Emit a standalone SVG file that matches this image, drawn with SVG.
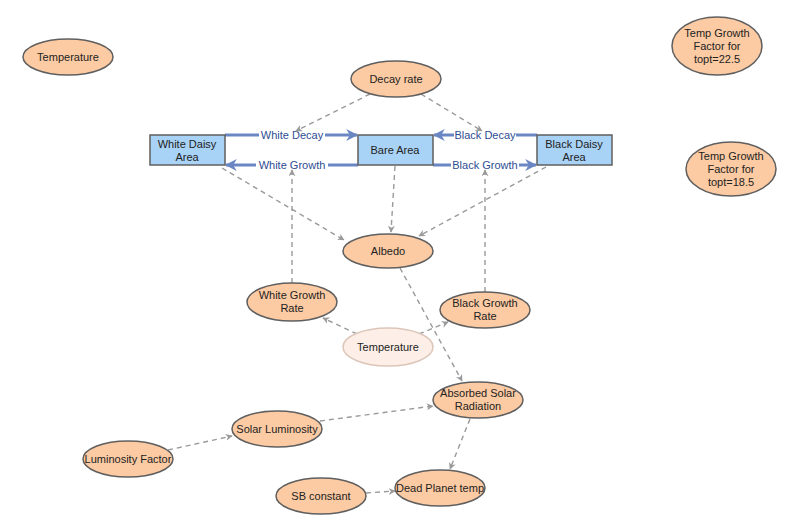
<svg xmlns="http://www.w3.org/2000/svg" width="800" height="532" viewBox="0 0 800 532">
<defs>
<style>
.n ellipse{fill:#fdcba3;stroke:#5f5f5f;stroke-width:1.5}
.n rect{fill:#a9d3f6;stroke:#5f5f5f;stroke-width:1.5}
.light ellipse{fill:#fdefe7;stroke:#dcc6ba}
text{font-family:"Comic Sans MS","Liberation Sans",sans-serif;font-size:11px;fill:#222;text-anchor:middle}
.d{stroke:#9a9a9a;stroke-width:1.4;stroke-dasharray:5 4;fill:none;marker-end:url(#ga)}
.f{stroke:#6a87c4;stroke-width:3;fill:none;marker-end:url(#ba)}
.fl{fill:#2d4d94}
.lb{fill:#fff}
</style>
<marker id="ga" viewBox="0 0 10 10" refX="9" refY="5" markerWidth="7" markerHeight="7" markerUnits="userSpaceOnUse" orient="auto"><path d="M0,0 L10,5 L0,10 L3,5 z" fill="#9a9a9a"/></marker>
<marker id="ba" viewBox="0 0 10 10" refX="9" refY="5" markerWidth="12" markerHeight="12" markerUnits="userSpaceOnUse" orient="auto"><path d="M0,0 L10,5 L0,10 L3,5 z" fill="#6a87c4"/></marker>
</defs>
<rect width="800" height="532" fill="#fff"/>
<g id="connectors">
<path class="d" d="M222,168 L344,240"/>
<path class="d" d="M395,166 L391,232"/>
<path class="d" d="M546,167 L419,236"/>
<path class="d" d="M357,334 L323,318"/>
<path class="d" d="M419,334 L448,322"/>
<path class="d" d="M400,268 L462,381"/>
<path class="d" d="M168,450 L232,436"/>
<path class="d" d="M320,421 L433,406"/>
<path class="d" d="M470,419 L450,469"/>
<path class="d" d="M366,493 L395,491"/>
<path class="f" d="M225,135 L357,135"/>
<path class="f" d="M358,165 L226,165"/>
<path class="f" d="M537,135 L434,135"/>
<path class="f" d="M433,165 L536,165"/>
<rect class="lb" x="259" y="128" width="66" height="14"/>
<text class="fl" x="292" y="139">White Decay</text>
<rect class="lb" x="256" y="158" width="72" height="14"/>
<text class="fl" x="292" y="169">White Growth</text>
<rect class="lb" x="454" y="128" width="62" height="14"/>
<text class="fl" x="485" y="139">Black Decay</text>
<rect class="lb" x="451" y="158" width="68" height="14"/>
<text class="fl" x="485" y="169">Black Growth</text>
<path class="d" d="M370,94 L296,131"/>
<path class="d" d="M421,94 L482,131"/>
<path class="d" d="M292,283 L292,170"/>
<path class="d" d="M485,292 L485,170"/>
</g>
<g id="temperature-top" class="n"><ellipse cx="68" cy="57" rx="45" ry="18"/><text x="68" y="61">Temperature</text></g>
<g id="decay-rate" class="n"><ellipse cx="396" cy="79" rx="45" ry="18"/><text x="396" y="83">Decay rate</text></g>
<g id="tgf-22" class="n"><ellipse cx="717" cy="46" rx="45" ry="29"/><text x="717" y="37">Temp Growth</text><text x="717" y="50">Factor for</text><text x="717" y="63">topt=22.5</text></g>
<g id="tgf-18" class="n"><ellipse cx="731" cy="169" rx="45" ry="27"/><text x="731" y="160">Temp Growth</text><text x="731" y="173">Factor for</text><text x="731" y="186">topt=18.5</text></g>
<g id="white-daisy-area" class="n"><rect x="150" y="135" width="75" height="30"/><text x="187" y="148">White Daisy</text><text x="187" y="161">Area</text></g>
<g id="bare-area" class="n"><rect x="358" y="135" width="75" height="30"/><text x="395" y="154">Bare Area</text></g>
<g id="black-daisy-area" class="n"><rect x="537" y="135" width="75" height="30"/><text x="574" y="148">Black Daisy</text><text x="574" y="161">Area</text></g>
<g id="albedo" class="n"><ellipse cx="388" cy="251" rx="45" ry="17"/><text x="388" y="255">Albedo</text></g>
<g id="white-growth-rate" class="n"><ellipse cx="292" cy="302" rx="45" ry="19"/><text x="292" y="299">White Growth</text><text x="292" y="312">Rate</text></g>
<g id="black-growth-rate" class="n"><ellipse cx="485" cy="310" rx="45" ry="18"/><text x="485" y="307">Black Growth</text><text x="485" y="320">Rate</text></g>
<g id="temperature" class="n light"><ellipse cx="388" cy="347" rx="45" ry="19"/><text x="388" y="351">Temperature</text></g>
<g id="absorbed-solar-radiation" class="n"><ellipse cx="478" cy="400" rx="45" ry="18"/><text x="478" y="397">Absorbed Solar</text><text x="478" y="410">Radiation</text></g>
<g id="solar-luminosity" class="n"><ellipse cx="277" cy="429" rx="45" ry="18"/><text x="277" y="433">Solar Luminosity</text></g>
<g id="luminosity-factor" class="n"><ellipse cx="128" cy="459" rx="45" ry="18"/><text x="128" y="463">Luminosity Factor</text></g>
<g id="sb-constant" class="n"><ellipse cx="321" cy="496" rx="45" ry="18"/><text x="321" y="500">SB constant</text></g>
<g id="dead-planet-temp" class="n"><ellipse cx="440" cy="488" rx="45" ry="18"/><text x="440" y="492">Dead Planet temp</text></g>
</svg>
